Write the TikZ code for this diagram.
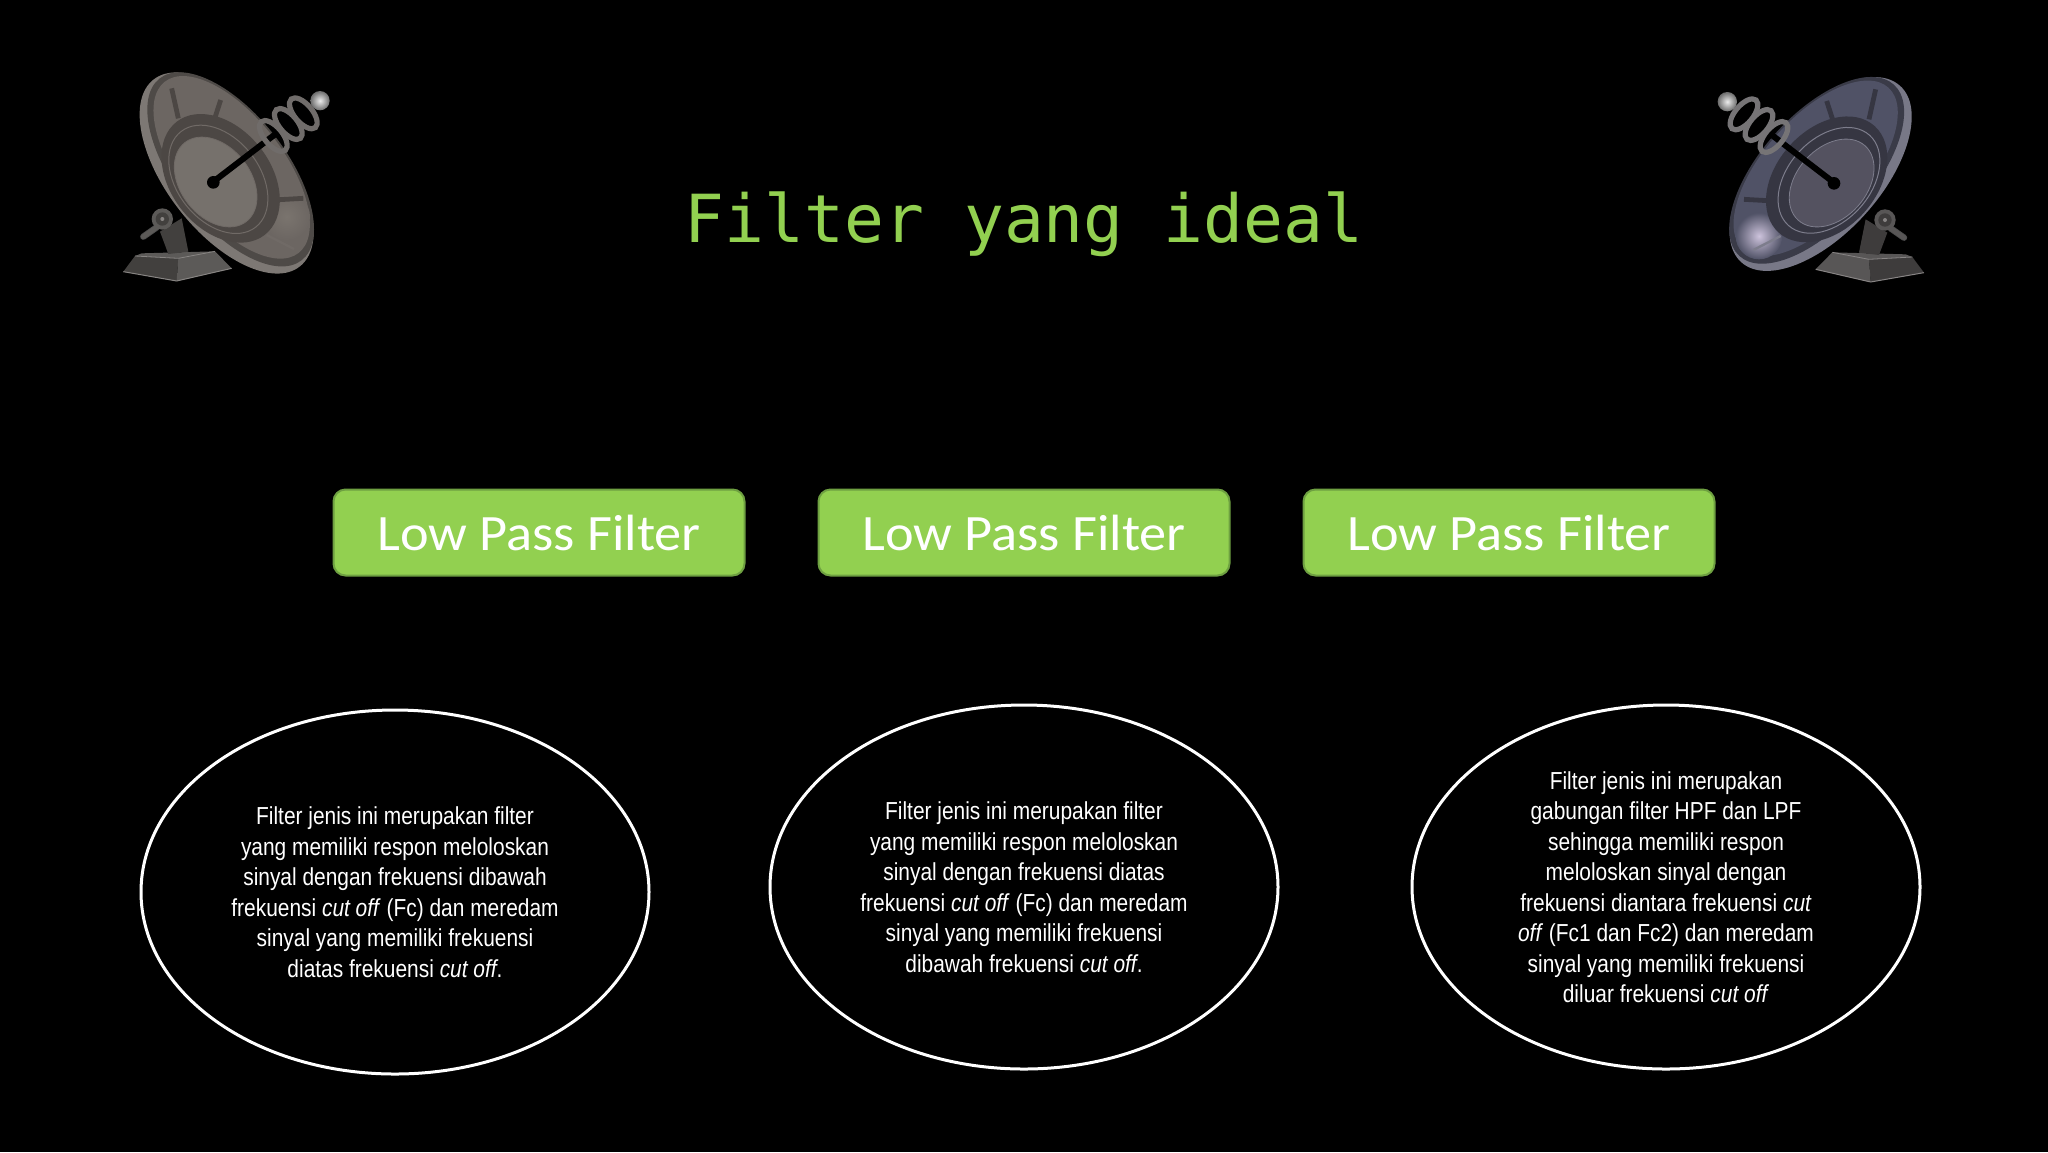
\documentclass[tikz,border=0pt]{standalone}
\usepackage{fontspec}
\setmainfont{Liberation Sans}
\newfontfamily\bodyfont[FakeStretch=0.85]{Liberation Sans}
\newfontfamily\btnfont[FakeStretch=1.065]{Carlito}
\newfontfamily\titlefont{DejaVu Sans Mono}
\definecolor{limegreen}{RGB}{146,208,80}
\definecolor{limeedge}{RGB}{110,160,65}
\tikzset{
  titletext/.style={text=limegreen,font=\titlefont\fontsize{33.15}{38}\selectfont,inner sep=0},
  btn/.style={draw=limeedge,line width=1pt,fill=limegreen,rounded corners=6pt,minimum width=205.5pt,minimum height=43pt,text=white,font=\btnfont\fontsize{25.5}{30}\selectfont,inner sep=0},
  bubble/.style={ellipse,draw=white,line width=1.5pt,minimum width=254pt,minimum height=182pt,text=white,align=center,inner sep=0,font=\bodyfont\fontsize{12.3}{15.25}\selectfont},
}
\usetikzlibrary{shapes.geometric}
\newcommand{\dishart}[1]{%
  % base
  \fill[baseA] (70,665)--(105,618)--(235,625)--(230,693)--cycle;
  \fill[baseB] (235,625)--(105,618)--(125,610)--(345,604)--(395,655)--(230,693)--cycle;
  \draw[baseL,line width=.5pt] (70,665)--(230,693)--(395,655);
  \draw[baseL,line width=.4pt] (105,618)--(235,625)--(345,604);
  % mount
  \fill[baseA] (180,545)--(245,505)--(265,605)--(205,612)--cycle;
  \draw[line width=3.2pt,black!70,line cap=round] (130,560)--(170,532);
  \draw[line width=2.4pt,baseB,line cap=round] (130,560)--(170,532);
  \fill[baseB] (187,507) circle (32);
  \fill[baseA] (187,507) circle (20);
  \fill[baseL] (187,507) circle (6);
  % dish
  \fill[dishL,rotate around={-#1:(380,369)}] (380,369) ellipse [x radius=356,y radius=180];
  \fill[dishB,rotate around={-#1:(392,358)}] (392,358) ellipse [x radius=346,y radius=166];
  \fill[dishC,rotate around={-#1:(395,352)}] (395,352) ellipse [x radius=326,y radius=154];
  \shade[inner color=dishH,outer color=dishC] (dishHi) circle (70);
  \fill[dishD,rotate around={-#1:(362,385)}] (362,385) ellipse [x radius=215,y radius=150];
  \draw[dishM,line width=.5pt,rotate around={-#1:(355,388)}] (355,388) ellipse [x radius=182,y radius=124];
  \fill[dishE,rotate around={-#1:(347,396)}] (347,396) ellipse [x radius=150,y radius=105];
  \draw[dishM,line width=.4pt,rotate around={-#1:(347,396)}] (347,396) ellipse [x radius=150,y radius=105];
  % panel dividers
  \draw[dishD,line width=2.4pt] (215,115)--(235,205) (362,150)--(340,218) (520,450)--(610,445);
  \draw[dishM,line width=1.2pt] (500,555)--(582,597);
  % feed
  \draw[black,line width=3pt] (340,395)--(640,165);
  \fill[black] (340,397) circle (19);
  \foreach \cx/\cy in {520/258,565/222,610/190}
    \draw[feed,line width=2.6pt,rotate around={-50:(\cx,\cy)}] (\cx,\cy) ellipse [x radius=56,y radius=27];
  \shade[inner color=white!85!gray,outer color=gray!85!black] (660,152) circle (29);
}
\begin{document}
\begin{tikzpicture}[x=0.5pt,y=-0.5pt]
\useasboundingbox (0,0) rectangle (2048,1152);
\fill[black] (0,0) rectangle (2048,1152);
% left antenna
\begin{scope}[shift={(100,50)},xscale=1/3,yscale=1/3]
  \definecolor{baseA}{RGB}{66,64,62}\definecolor{baseB}{RGB}{92,90,88}\definecolor{baseL}{RGB}{135,132,130}
  \definecolor{dishL}{RGB}{125,120,116}\definecolor{dishB}{RGB}{78,74,71}\definecolor{dishC}{RGB}{108,102,98}
  \definecolor{dishD}{RGB}{76,71,68}\definecolor{dishE}{RGB}{118,113,108}\definecolor{dishH}{RGB}{122,116,110}
  \definecolor{dishM}{RGB}{112,106,102}\definecolor{feed}{RGB}{112,108,106}
  \coordinate (dishHi) at (560,500);
  \dishart{52}
\end{scope}
% right antenna
\begin{scope}[shift={(1947.3,51)},xscale=-1/3,yscale=1/3]
  \definecolor{baseA}{RGB}{62,60,60}\definecolor{baseB}{RGB}{88,86,86}\definecolor{baseL}{RGB}{135,132,132}
  \definecolor{dishL}{RGB}{120,120,135}\definecolor{dishB}{RGB}{58,59,72}\definecolor{dishC}{RGB}{80,82,102}
  \definecolor{dishD}{RGB}{54,54,66}\definecolor{dishE}{RGB}{84,82,96}\definecolor{dishH}{RGB}{205,195,220}
  \definecolor{dishM}{RGB}{125,125,140}\definecolor{feed}{RGB}{118,116,118}
  \coordinate (dishHi) at (565,555);
  \dishart{48}
\end{scope}
% title
\node[titletext] (title) at (1024,224) {Filter yang ideal};
% buttons
\node[btn] (btnA) at (539,532.5) {Low Pass Filter};
\node[btn] (btnB) at (1024,532.5) {Low Pass Filter};
\node[btn] (btnC) at (1509,532.5) {Low Pass Filter};
% ellipses
\node[bubble] (ellA) at (395,892) {Filter jenis ini merupakan filter\\yang memiliki respon meloloskan\\sinyal dengan frekuensi dibawah\\frekuensi \textit{cut off} (Fc) dan meredam\\sinyal yang memiliki frekuensi\\diatas frekuensi \textit{cut off}.};
\node[bubble] (ellB) at (1024,887) {Filter jenis ini merupakan filter\\yang memiliki respon meloloskan\\sinyal dengan frekuensi diatas\\frekuensi \textit{cut off} (Fc) dan meredam\\sinyal yang memiliki frekuensi\\dibawah frekuensi \textit{cut off}.};
\node[bubble] (ellC) at (1666,887) {Filter jenis ini merupakan\\gabungan filter HPF dan LPF\\sehingga memiliki respon\\meloloskan sinyal dengan\\frekuensi diantara frekuensi \textit{cut}\\\textit{off} (Fc1 dan Fc2) dan meredam\\sinyal yang memiliki frekuensi\\diluar frekuensi \textit{cut off}};
\end{tikzpicture}
\end{document}
